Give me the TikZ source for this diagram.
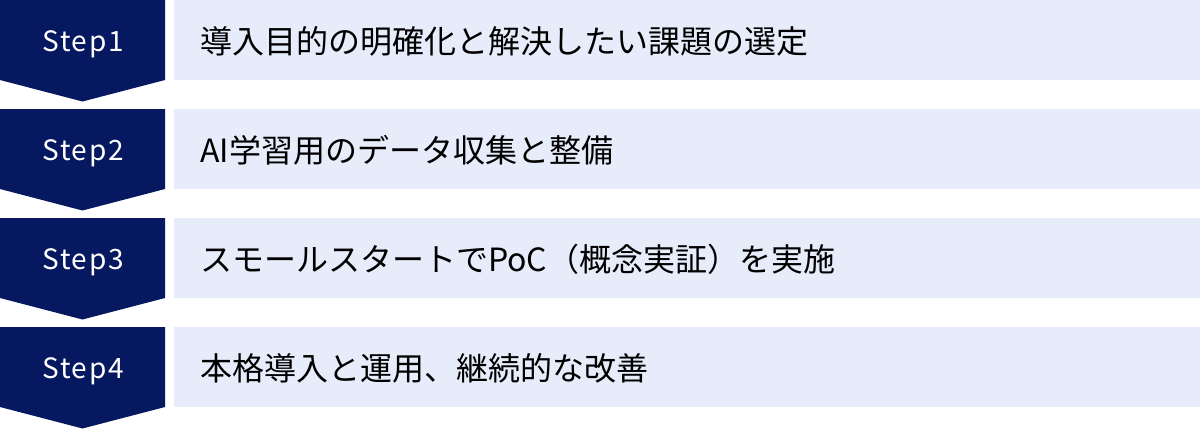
\documentclass[tikz,border=0pt]{standalone}
\usepackage{fontspec}
\setmainfont{Noto Sans CJK JP}
\newfontfamily\stepfont[LetterSpace=6]{Noto Sans CJK JP}
\definecolor{navy}{RGB}{5,24,96}
\definecolor{lightbg}{RGB}{230,236,250}
\begin{document}
\begin{tikzpicture}[x=1pt,y=-1pt,
  chev/.style={fill=navy,draw=none},
  bar/.style={fill=lightbg,draw=none},
  steplabel/.style={text=white,font=\stepfont\fontsize{28}{32}\selectfont,inner sep=0pt,anchor=base},
  tasklabel/.style={text=black,font=\fontsize{32}{38}\selectfont,inner sep=0pt,anchor=west}]
\useasboundingbox (0,0) rectangle (1200,429);
\foreach \i/\lab/\txt in {0/1/導入目的の明確化と解決したい課題の選定,
                         1/2/AI学習用のデータ収集と整備,
                         2/3/スモールスタートでPoC（概念実証）を実施,
                         3/4/本格導入と運用、継続的な改善}{
  \pgfmathsetmacro{\t}{109*\i}
  \fill[chev] (0,\t) -- (165,\t) -- (165,\t+80) -- (82.5,\t+101.5) -- (0,\t+80) -- cycle;
  \fill[bar] (174,\t) rectangle (1200,\t+80);
  \node[steplabel] (step\lab) at (83,\t+51.5) {Step\lab};
  \node[tasklabel] (task\lab) at (200,\t+41) {\txt};
}
\end{tikzpicture}
\end{document}
